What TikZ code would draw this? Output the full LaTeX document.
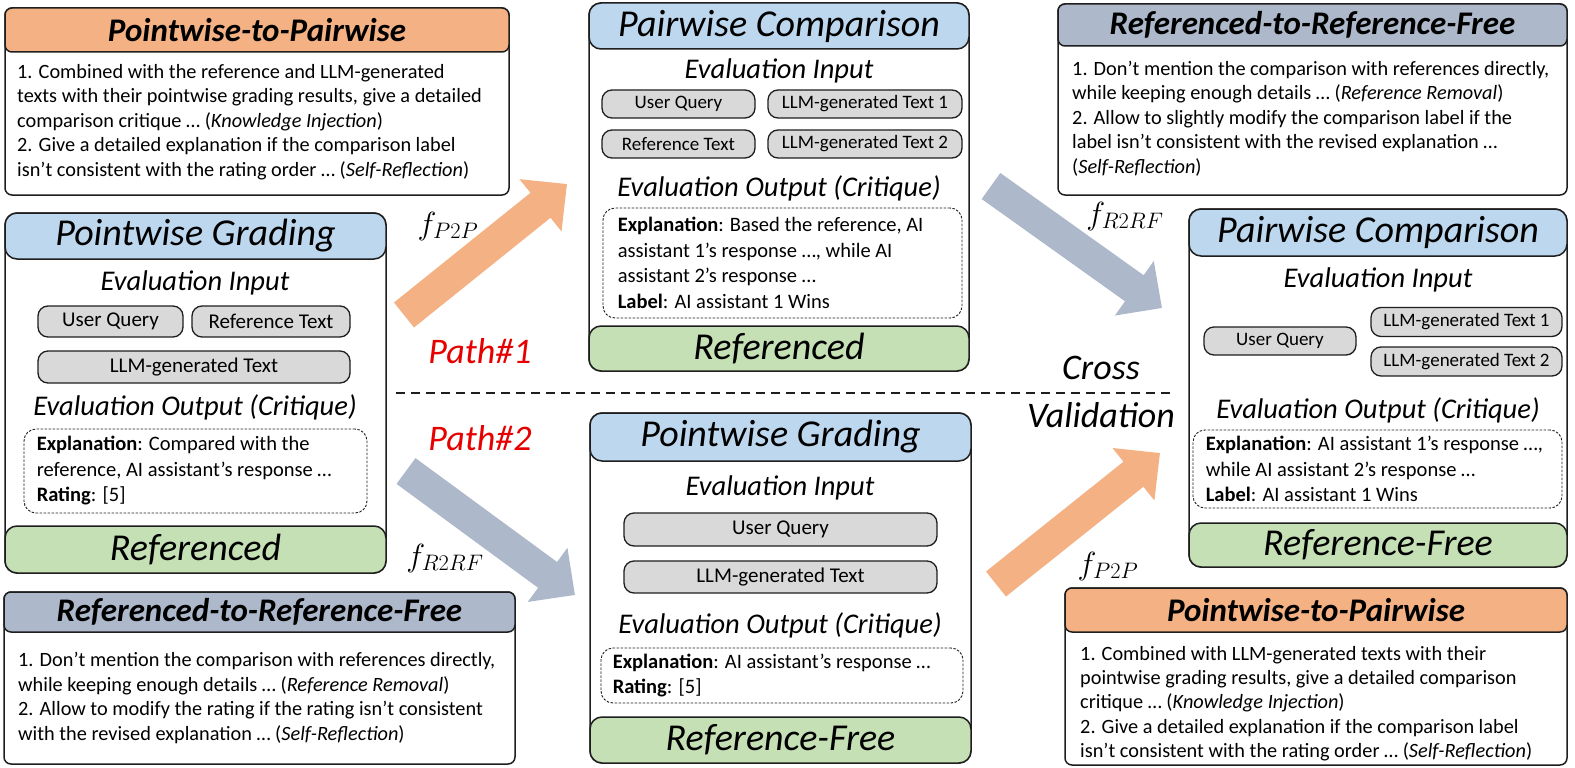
\RequirePackage{fix-cm}
\documentclass[tikz,border=0pt]{standalone}
\usepackage{fontspec}
\setmainfont{Carlito}
\usetikzlibrary{positioning, calc, arrows.meta}

\definecolor{hdorange}{HTML}{F4B183}
\definecolor{hdblue}{HTML}{BDD7EE}
\definecolor{ftgreen}{HTML}{C5E0B4}
\definecolor{hdslate}{HTML}{ADB9CA}
\definecolor{chipgray}{HTML}{D9D9D9}
\definecolor{edge}{HTML}{1E1E1E}
\definecolor{pathred}{HTML}{E60000}

\begin{document}
\begin{tikzpicture}[x=1pt, y=-1pt,
    panel/.style={draw=edge, line width=1.5pt, rounded corners=12pt, inner sep=0pt},
    band/.style={draw=edge, line width=1.5pt, rounded corners=12pt, inner sep=0pt, font=\fontsize{38}{40}\selectfont\itshape},
    notebox/.style={draw=edge, line width=1.5pt, rounded corners=7pt, inner sep=0pt},
    tagband/.style={draw=edge, line width=1.5pt, rounded corners=7pt, inner sep=0pt, font=\fontsize{33}{35}\selectfont\bfseries\itshape},
    notes/.style={inner sep=0pt, align=left, anchor=west, font=\fontsize{20.3}{24.4}\selectfont},
    subhead/.style={inner sep=0pt, font=\fontsize{28.5}{30}\selectfont\itshape},
    chip/.style={draw=edge, fill=chipgray, line width=1.3pt, rounded corners=10pt, inner sep=0pt, font=\fontsize{19}{22}\selectfont},
    chipwide/.style={chip, font=\fontsize{21}{24}\selectfont},
    critbox/.style={draw=edge, dash pattern=on 2.5pt off 1.5pt, line width=0.9pt, rounded corners=12pt, inner sep=0pt},
    crittext/.style={inner sep=0pt, align=left, anchor=west, font=\fontsize{20.5}{25.5}\selectfont},
    fatarrow/.style={line width=32pt, -{Triangle[length=34pt, width=65pt]}},
    pathtag/.style={text=pathred, font=\fontsize{36}{38}\selectfont\itshape},
    crossval/.style={font=\fontsize{36}{38}\selectfont\itshape},
    fname/.style={font=\fontsize{32}{34}\selectfont}
]
\useasboundingbox (0,0) rectangle (1575,768);
\fill[white] (0,0) rectangle (1575,768);

\coordinate (a1s) at (404,315);
\coordinate (a1e) at (567,184);
\coordinate (a2s) at (406,471);
\coordinate (a2e) at (575,595);
\coordinate (a3s) at (991,186);
\coordinate (a3e) at (1162,308);
\coordinate (a4s) at (996,584);
\coordinate (a4e) at (1160,453);
\draw[fatarrow, hdorange] (a1s) -- (a1e);
\draw[fatarrow, hdslate] (a2s) -- (a2e);
\draw[fatarrow, hdslate] (a3s) -- (a3e);
\draw[fatarrow, hdorange] (a4s) -- (a4e);

\coordinate (sepL) at (396,393);
\coordinate (sepR) at (1175,393);
\draw[edge, line width=1.8pt, dash pattern=on 9pt off 6pt] (sepL) -- (sepR);

% instruction boxes
\node[notebox, minimum width=504pt, minimum height=187pt] (p2pTop) at (257,101.5) {};
\node[tagband, fill=hdorange, minimum width=504pt, minimum height=44pt, anchor=north] (p2pTopHd) at (p2pTop.north) {Pointwise-to-Pairwise};
\node[notes] (p2pTopTx) at (17,122) {1. Combined with the reference and LLM-generated\\
texts with their pointwise grading results, give a detailed\\
comparison critique … (\textit{Knowledge Injection})\\
2. Give a detailed explanation if the comparison label\\
isn't consistent with the rating order … (\textit{Self-Reflection})};

\node[notebox, minimum width=509pt, minimum height=191pt] (r2rfTop) at (1312.5,99.5) {};
\node[tagband, fill=hdslate, minimum width=509pt, minimum height=42pt, anchor=north] (r2rfTopHd) at (r2rfTop.north) {Referenced-to-Reference-Free};
\node[notes] (r2rfTopTx) at (1072,118.5) {1. Don't mention the comparison with references directly,\\
while keeping enough details … (\textit{Reference Removal})\\
2. Allow to slightly modify the comparison label if the\\
label isn't consistent with the revised explanation …\\
(\textit{Self-Reflection})};

\node[notebox, minimum width=511pt, minimum height=172pt] (r2rfBot) at (259.5,678) {};
\node[tagband, fill=hdslate, minimum width=511pt, minimum height=40pt, anchor=north] (r2rfBotHd) at (r2rfBot.north) {Referenced-to-Reference-Free};
\node[notes] (r2rfBotTx) at (18,698) {1. Don't mention the comparison with references directly,\\
while keeping enough details … (\textit{Reference Removal})\\
2. Allow to modify the rating if the rating isn't consistent\\
with the revised explanation … (\textit{Self-Reflection})};

\node[notebox, minimum width=502pt, minimum height=177pt] (p2pBot) at (1316,676.5) {};
\node[tagband, fill=hdorange, minimum width=502pt, minimum height=44pt, anchor=north] (p2pBotHd) at (p2pBot.north) {Pointwise-to-Pairwise};
\node[notes] (p2pBotTx) at (1080,703.5) {1. Combined with LLM-generated texts with their\\
pointwise grading results, give a detailed comparison\\
critique … (\textit{Knowledge Injection})\\
2. Give a detailed explanation if the comparison label\\
isn't consistent with the rating order … (\textit{Self-Reflection})};

% pointwise grading, referenced
\node[panel, minimum width=381pt, minimum height=360pt] (pgL) at (195.5,393) {};
\node[band, fill=hdblue, minimum width=381pt, minimum height=46pt, anchor=north] (pgLHd) at (pgL.north) {Pointwise Grading};
\node[band, fill=ftgreen, minimum width=381pt, minimum height=47pt, anchor=south] (pgLFt) at (pgL.south) {Referenced};
\node[subhead] (eiL) at (195,283) {Evaluation Input};
\node[chipwide, minimum width=145pt, minimum height=31pt] (uqL) at (110.5,321.5) {User Query};
\node[chipwide, minimum width=158pt, minimum height=31pt] (rtL) at (271,321.5) {Reference Text};
\node[chipwide, minimum width=312pt, minimum height=32pt] (llmL) at (194,367) {LLM-generated Text};
\node[subhead] (eoL) at (195,407) {Evaluation Output (Critique)};
\node[critbox, minimum width=343pt, minimum height=84pt] (critL) at (195.5,471) {};
\node[crittext, right=13pt of critL.west] (critLTx) {\textbf{Explanation}: Compared with the\\
reference, AI assistant's response …\\
\textbf{Rating}: [5]};

% pairwise comparison, referenced
\node[panel, minimum width=380pt, minimum height=368pt] (pcA) at (779,187) {};
\node[band, fill=hdblue, minimum width=380pt, minimum height=46pt, anchor=north] (pcAHd) at (pcA.north) {Pairwise Comparison};
\node[band, fill=ftgreen, minimum width=380pt, minimum height=45pt, anchor=south] (pcAFt) at (pcA.south) {Referenced};
\node[subhead] (eiA) at (779,71) {Evaluation Input};
\node[chip, minimum width=153pt, minimum height=28pt] (uqA) at (678.5,104) {User Query};
\node[chip, minimum width=153pt, minimum height=28pt] (rtA) at (678.5,144) {Reference Text};
\node[chip, minimum width=194pt, minimum height=28pt] (llm1A) at (865,104) {LLM-generated Text 1};
\node[chip, minimum width=194pt, minimum height=28pt] (llm2A) at (865,144) {LLM-generated Text 2};
\node[subhead] (eoA) at (779,188) {Evaluation Output (Critique)};
\node[critbox, minimum width=359pt, minimum height=110pt] (critA) at (782.5,263) {};
\node[crittext, right=15pt of critA.west] (critATx) {\textbf{Explanation}: Based the reference, AI\\
assistant 1's response …, while AI\\
assistant 2's response …\\
\textbf{Label}: AI assistant 1 Wins};

% pointwise grading, reference-free
\node[panel, minimum width=381pt, minimum height=350pt] (pgB) at (780.5,588) {};
\node[band, fill=hdblue, minimum width=381pt, minimum height=48pt, anchor=north] (pgBHd) at (pgB.north) {Pointwise Grading};
\node[band, fill=ftgreen, minimum width=381pt, minimum height=46pt, anchor=south] (pgBFt) at (pgB.south) {Reference-Free};
\node[subhead] (eiB) at (780,488) {Evaluation Input};
\node[chipwide, minimum width=313pt, minimum height=33pt] (uqB) at (780.5,529.5) {User Query};
\node[chipwide, minimum width=313pt, minimum height=32pt] (llmB) at (780.5,577) {LLM-generated Text};
\node[subhead] (eoB) at (780,625) {Evaluation Output (Critique)};
\node[critbox, minimum width=362pt, minimum height=55pt] (critB) at (782,675.5) {};
\node[crittext, right=12pt of critB.west] (critBTx) {\textbf{Explanation}: AI assistant's response …\\
\textbf{Rating}: [5]};

% pairwise comparison, reference-free
\node[panel, minimum width=378pt, minimum height=358pt] (pcR) at (1378,388) {};
\node[band, fill=hdblue, minimum width=378pt, minimum height=47pt, anchor=north] (pcRHd) at (pcR.north) {Pairwise Comparison};
\node[band, fill=ftgreen, minimum width=378pt, minimum height=44pt, anchor=south] (pcRFt) at (pcR.south) {Reference-Free};
\node[subhead] (eiR) at (1378,280) {Evaluation Input};
\node[chip, minimum width=152pt, minimum height=28pt] (uqR) at (1280,341) {User Query};
\node[chip, minimum width=191pt, minimum height=29pt] (llm1R) at (1466.5,322) {LLM-generated Text 1};
\node[chip, minimum width=191pt, minimum height=29pt] (llm2R) at (1466.5,361.5) {LLM-generated Text 2};
\node[subhead] (eoR) at (1378,410) {Evaluation Output (Critique)};
\node[critbox, minimum width=369pt, minimum height=78pt] (critR) at (1377.5,469) {};
\node[crittext, right=13pt of critR.west] (critRTx) {\textbf{Explanation}: AI assistant 1's response …,\\
while AI assistant 2's response …\\
\textbf{Label}: AI assistant 1 Wins};

% labels between the panels
\node[pathtag] (path1) at (480,351) {Path\#1};
\node[pathtag] (path2) at (480,438) {Path\#2};
\node[fname] (fP2Pa) at (448,226) {$f_{P2P}$};
\node[fname] (fR2RFa) at (445,558) {$f_{R2RF}$};
\node[fname] (fR2RFb) at (1125,216) {$f_{R2RF}$};
\node[fname] (fP2Pb) at (1108,566) {$f_{P2P}$};
\node[crossval] (cross) at (1101,368) {Cross};
\node[crossval] (valid) at (1101,415) {Validation};
\end{tikzpicture}
\end{document}
